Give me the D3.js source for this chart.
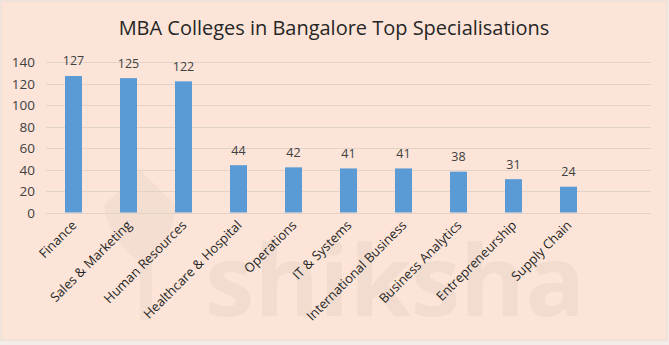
<!DOCTYPE html>
<html><head><meta charset="utf-8">
<script src="https://cdn.jsdelivr.net/npm/d3@7/dist/d3.min.js"></script>
<style>html,body{margin:0;padding:0;background:#fff}svg{display:block}</style>
</head><body>
<script>
const title = "MBA Colleges in Bangalore Top Specialisations";
const categories = ["Finance","Sales & Marketing","Human Resources","Healthcare & Hospital","Operations","IT & Systems","International Business","Business Analytics","Entrepreneurship","Supply Chain"];
const values = [127,125,122,44,42,41,41,38,31,24];
const yTicks = [0,20,40,60,80,100,120,140];

const W = 669, H = 345;
const svg = d3.select("body").append("svg").attr("width", W).attr("height", H);
svg.append("rect").attr("x",0).attr("y",0).attr("width",W).attr("height",H).attr("fill","#f3ece8");
svg.append("rect").attr("x",1).attr("y",1).attr("width",W-3).attr("height",H-6)
  .attr("fill","#fce5d8").attr("stroke","#e9dcd3").attr("stroke-width",1);

// watermark
const wm = svg.append("g").attr("fill","#f1dccf");
const wt = wm.append("text").attr("x",205).attr("y",316).attr("font-family","'Open Sans', sans-serif")
  .attr("font-weight","bold").attr("font-size",100).text("shiksha");
const ww = wt.node().getComputedTextLength();
wt.attr("font-size", 100*380/ww);
wm.append("path").attr("d","M140,320 L140,262 Q108,240 104,205 L140,170 L176,205 Q172,240 152,262 L152,320 Z").attr("opacity",0.7);

const x = d3.scaleBand().domain(categories).range([46, 596]).padding(0);
const y = d3.scaleLinear().domain([0,140]).range([212.5, 62]);
const gridRight = 651;

// gridlines
svg.append("g").selectAll("line").data(yTicks).join("line")
  .attr("x1",46).attr("x2",gridRight)
  .attr("y1",d=>Math.round(y(d))+0.5).attr("y2",d=>Math.round(y(d))+0.5)
  .attr("stroke","#e3d2c7").attr("stroke-width",1);

// y axis labels
const yAxis = d3.axisLeft(y).tickValues(yTicks).tickSize(0).tickPadding(0);
const ya = svg.append("g").attr("transform","translate(35,0)").call(yAxis);
ya.select(".domain").remove();
ya.selectAll("text").attr("font-family","'Open Sans', sans-serif").attr("font-size",13.5)
  .attr("fill","#404040").attr("dy","0.35em");

// bars
const bw = 17;
svg.append("g").selectAll("rect").data(values).join("rect")
  .attr("x",(d,i)=>x(categories[i])+x.bandwidth()/2-bw/2)
  .attr("width",bw)
  .attr("y",d=>y(d)).attr("height",d=>y(0)-y(d))
  .attr("fill","#5b9bd5");

// value labels
svg.append("g").selectAll("text").data(values).join("text")
  .attr("x",(d,i)=>x(categories[i])+x.bandwidth()/2)
  .attr("y",d=>y(d)-10.5)
  .attr("text-anchor","middle").attr("font-family","'Open Sans', sans-serif").attr("font-size",12.5)
  .attr("fill","#404040").text(d=>d);

// x labels
svg.append("g").selectAll("text").data(categories).join("text")
  .attr("transform",d=>`translate(${x(d)+x.bandwidth()/2+4},226) rotate(-45)`)
  .attr("text-anchor","end").attr("font-family","'Open Sans', sans-serif").attr("font-size",13)
  .attr("fill","#262626").text(d=>d);

// title
const t = svg.append("text").attr("x",334).attr("y",35).attr("text-anchor","middle")
  .attr("font-family","'Open Sans', sans-serif").attr("font-size",20).attr("fill","#262626").text(title);
const tw = t.node().getComputedTextLength();
t.attr("font-size", 20*431/tw);
</script>
</body></html>
